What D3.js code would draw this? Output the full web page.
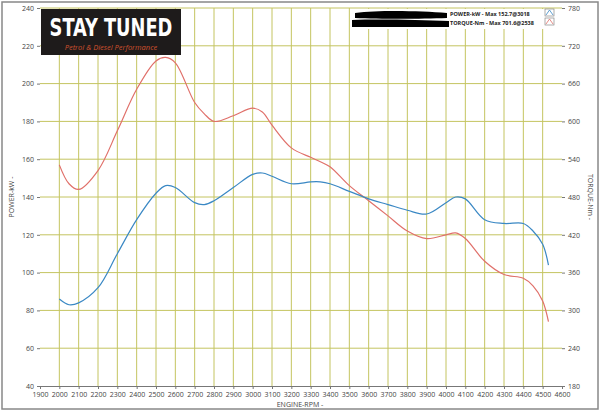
<!DOCTYPE html>
<html><head><meta charset="utf-8">
<script src="https://cdn.jsdelivr.net/npm/d3@7"></script>
<style>body{margin:0;background:#fff;font-family:"Open Sans",sans-serif}</style>
</head><body><svg id="c" width="602" height="415"></svg>
<script>
// engine rpm sample points
const rpm = [2000,2050,2100,2200,2300,2400,2500,2550,2600,2700,2750,2800,2900,3000,3050,3100,3200,3300,3350,3400,3500,3600,3700,3800,3900,4000,4050,4100,4200,4300,4400,4450,4500,4530];
// power in kW
const power = [86,83,84,92,110,128,142,146,145,137,136,138,145,152,152.7,151,147,148,148,147,143,139,136,133,131,137,140,139,128,126,126,122,115,104];
// torque in Nm
const torque = [531,501,492,522,585,651,696,701.6,693,630,612,600,609,621,615,594,558,543,536,528,498,474,450,426,414,420,423,414,378,357,351,339,315,282];
const xTicks = d3.range(1900, 4601, 100);
const yTicksL = d3.range(40, 241, 20);
const yTicksR = d3.range(180, 781, 60);

const svg = d3.select('#c');
const x = d3.scaleLinear().domain([1900, 4600]).range([40, 562]);
const yL = d3.scaleLinear().domain([40, 240]).range([386, 8]);
const yR = d3.scaleLinear().domain([180, 780]).range([386, 8]);
const grid = '#c4c460';

svg.append('rect').attr('x', 2).attr('y', 2).attr('width', 596).attr('height', 407)
    .attr('fill', 'none').attr('stroke', '#888').attr('stroke-width', 1.5);

// gridlines
svg.selectAll('.vg').data(xTicks.filter(d => d > 1900 && d < 4600)).enter().append('line')
    .attr('x1', d => x(d)).attr('x2', d => x(d)).attr('y1', 8).attr('y2', 386)
    .attr('stroke', grid).attr('stroke-width', 1);
svg.selectAll('.hg').data(yTicksL.filter(d => d > 40)).enter().append('line')
    .attr('x1', 40).attr('x2', 562).attr('y1', d => yL(d)).attr('y2', d => yL(d))
    .attr('stroke', grid).attr('stroke-width', 1);

// axes
const fs = '7px';
const ax = svg.append('g').attr('transform', 'translate(0,386)')
    .call(d3.axisBottom(x).tickValues(xTicks).tickSize(3).tickFormat(d3.format('d')));
const al = svg.append('g').attr('transform', 'translate(40,0)')
    .call(d3.axisLeft(yL).tickValues(yTicksL).tickSize(3));
const ar = svg.append('g').attr('transform', 'translate(562,0)')
    .call(d3.axisRight(yR).tickValues(yTicksR).tickSize(3));
[ax, al, ar].forEach(g => {
    g.selectAll('text').attr('font-size', fs).attr('fill', '#444').attr('font-family', 'Open Sans');
    g.selectAll('line,path').attr('stroke', '#777');
});
al.select('.domain').remove(); ar.select('.domain').remove();

svg.append('text').attr('x', 300).attr('y', 407).attr('text-anchor', 'middle')
    .attr('font-size', fs).attr('fill', '#444').text('ENGINE-RPM -');
svg.append('text').attr('transform', 'translate(14,197) rotate(-90)').attr('text-anchor', 'middle')
    .attr('font-size', fs).attr('fill', '#444').text('POWER-kW -');
svg.append('text').attr('transform', 'translate(588,197) rotate(90)').attr('text-anchor', 'middle')
    .attr('font-size', fs).attr('fill', '#444').text('TORQUE-Nm -');

// curves
svg.append('path').datum(d3.zip(rpm, torque))
    .attr('d', d3.line().x(d => x(d[0])).y(d => yR(d[1])).curve(d3.curveCatmullRom))
    .attr('fill', 'none').attr('stroke', '#e0706a').attr('stroke-width', 1.2);
svg.append('path').datum(d3.zip(rpm, power))
    .attr('d', d3.line().x(d => x(d[0])).y(d => yL(d[1])).curve(d3.curveCatmullRom))
    .attr('fill', 'none').attr('stroke', '#3a88c4').attr('stroke-width', 1.2);

// logo
svg.append('rect').attr('x', 41).attr('y', 9).attr('width', 140).attr('height', 46).attr('fill', '#1e1b1b');
svg.append('text').attr('x', 111).attr('y', 36).attr('text-anchor', 'middle')
    .attr('font-family', 'DejaVu Sans Condensed').attr('font-weight', 'bold').attr('font-size', '22px')
    .attr('fill', '#fff').attr('transform', 'translate(111,36) scale(0.9,1.1) translate(-111,-36)')
    .text('STAY TUNED');
svg.append('text').attr('x', 111).attr('y', 50).attr('text-anchor', 'middle')
    .attr('font-style', 'italic').attr('font-size', '7.5px').attr('fill', '#d0512e')
    .text('Petrol & Diesel Performance');

// legend
svg.append('rect').attr('x', 352).attr('y', 9).attr('width', 205).attr('height', 20).attr('fill', '#fff');
svg.append('path').attr('d', 'M355,13 C380,10 420,11 447,13 L447,18 C420,19 380,19 355,18 Z').attr('fill', '#000');
svg.append('path').attr('d', 'M352,20 C380,19 420,20 449,21 L449,27 C420,27 380,27 352,27 Z').attr('fill', '#000');
const leg = [['POWER-kW -   Max 152.7@3018', '#3a88c4', 16], ['TORQUE-Nm -   Max 701.6@2538', '#e0706a', 25]];
leg.forEach(([t, c, yy]) => {
    svg.append('text').attr('x', 450).attr('y', yy).attr('font-size', '5.5px').attr('font-weight', 'bold')
        .attr('fill', '#222').text(t);
    svg.append('rect').attr('x', 545).attr('y', yy - 7).attr('width', 9).attr('height', 7)
        .attr('fill', '#fff').attr('stroke', '#777').attr('stroke-width', 0.6);
    svg.append('path').attr('d', `M546,${yy - 1} L549.5,${yy - 6} L553,${yy - 1}`)
        .attr('fill', 'none').attr('stroke', c).attr('stroke-width', 0.8);
});
</script></body></html>
